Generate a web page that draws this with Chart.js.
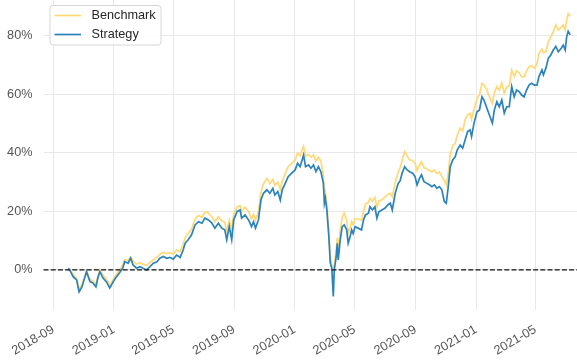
<!DOCTYPE html>
<html>
<head>
<meta charset="utf-8">
<script src="https://cdn.jsdelivr.net/npm/chart.js@4.4.1/dist/chart.umd.min.js"></script>
<style>
  body { margin: 0; background: #fff; }
  canvas { display: block; }
</style>
</head>
<body>
<canvas id="perfChart" width="577" height="360"></canvas>
<script>
// Cumulative returns (%)
const dates = [
	'2018-10-01', '2018-10-04', '2018-10-11', '2018-10-18', '2018-10-23', '2018-10-29', '2018-11-02', '2018-11-07',
	'2018-11-14', '2018-11-20', '2018-11-26', '2018-11-30', '2018-12-04', '2018-12-10', '2018-12-17', '2018-12-24',
	'2018-12-31', '2019-01-05', '2019-01-12', '2019-01-19', '2019-01-23', '2019-01-30', '2019-02-04', '2019-02-09',
	'2019-02-16', '2019-02-23', '2019-03-01', '2019-03-08', '2019-03-15', '2019-03-22', '2019-03-29', '2019-04-04',
	'2019-04-11', '2019-04-18', '2019-04-24', '2019-05-01', '2019-05-08', '2019-05-15', '2019-05-21', '2019-05-25',
	'2019-05-31', '2019-06-07', '2019-06-14', '2019-06-21', '2019-06-28', '2019-07-04', '2019-07-11', '2019-07-18',
	'2019-07-24', '2019-07-31', '2019-08-07', '2019-08-13', '2019-08-17', '2019-08-22', '2019-08-27', '2019-08-31',
	'2019-09-07', '2019-09-13', '2019-09-16', '2019-09-23', '2019-09-30', '2019-10-06', '2019-10-10', '2019-10-14',
	'2019-10-20', '2019-10-25', '2019-10-30', '2019-11-06', '2019-11-12', '2019-11-18', '2019-11-22', '2019-11-28',
	'2019-12-03', '2019-12-07', '2019-12-13', '2019-12-19', '2019-12-26', '2020-01-02', '2020-01-07', '2020-01-12',
	'2020-01-15', '2020-01-19', '2020-01-23', '2020-01-29', '2020-02-03', '2020-02-08', '2020-02-13', '2020-02-18',
	'2020-02-23', '2020-02-28', '2020-03-01', '2020-03-03', '2020-03-06', '2020-03-10', '2020-03-13', '2020-03-16',
	'2020-03-19', '2020-03-21', '2020-03-25', '2020-03-27', '2020-03-29', '2020-04-02', '2020-04-06', '2020-04-10',
	'2020-04-15', '2020-04-18', '2020-04-22', '2020-04-25', '2020-04-28', '2020-05-02', '2020-05-08', '2020-05-15',
	'2020-05-19', '2020-05-23', '2020-05-29', '2020-06-01', '2020-06-06', '2020-06-11', '2020-06-15', '2020-06-19',
	'2020-06-25', '2020-07-01', '2020-07-07', '2020-07-12', '2020-07-16', '2020-07-22', '2020-07-28', '2020-08-01',
	'2020-08-05', '2020-08-10', '2020-08-15', '2020-08-20', '2020-08-26', '2020-08-31', '2020-09-04', '2020-09-09',
	'2020-09-13', '2020-09-18', '2020-09-24', '2020-09-29', '2020-10-04', '2020-10-09', '2020-10-14', '2020-10-19',
	'2020-10-24', '2020-10-29', '2020-11-02', '2020-11-06', '2020-11-10', '2020-11-15', '2020-11-20', '2020-11-24',
	'2020-11-30', '2020-12-05', '2020-12-10', '2020-12-15', '2020-12-20', '2020-12-23', '2020-12-28', '2021-01-03',
	'2021-01-08', '2021-01-13', '2021-01-17', '2021-01-23', '2021-01-28', '2021-02-03', '2021-02-07', '2021-02-12',
	'2021-02-17', '2021-02-22', '2021-02-27', '2021-03-04', '2021-03-09', '2021-03-14', '2021-03-19', '2021-03-24',
	'2021-03-29', '2021-04-03', '2021-04-08', '2021-04-13', '2021-04-18', '2021-04-23', '2021-04-29', '2021-05-04',
	'2021-05-08', '2021-05-14', '2021-05-17', '2021-05-22', '2021-05-27', '2021-06-01', '2021-06-06', '2021-06-11',
	'2021-06-16', '2021-06-22', '2021-06-26', '2021-06-30', '2021-07-03', '2021-07-06', '2021-07-10'
];

const strategy = [
	0.5, 0.0, -2.3, -3.4, -7.5, -5.7, -3.4, -0.6,
	-4.0, -4.5, -5.8, -2.7, -0.6, -2.7, -4.0, -6.2,
	-4.0, -2.7, -1.1, 0.6, 2.8, 2.3, 4.0, 1.7,
	0.6, 1.1, 0.6, 0.0, 1.1, 2.3, 2.8, 4.0,
	4.6, 4.0, 4.3, 3.7, 5.1, 4.3, 6.8, 9.1,
	10.3, 12.0, 15.4, 16.5, 16.0, 17.7, 17.1, 16.0,
	14.3, 16.0, 14.3, 13.7, 10.3, 14.8, 10.3, 17.1,
	20.0, 20.5, 17.7, 18.8, 17.1, 14.8, 16.5, 14.3,
	17.1, 23.9, 26.2, 27.4, 26.2, 27.9, 25.6, 26.8,
	23.9, 27.4, 29.6, 31.9, 33.1, 34.2, 36.5, 35.3,
	37.0, 39.3, 35.3, 35.9, 34.8, 35.9, 33.6, 35.3,
	33.6, 29.6, 22.8, 24.5, 20.5, 11.4, 2.3, 0.6,
	-9.1, 0.0, 4.6, 9.1, 3.4, 10.3, 14.8, 15.4,
	13.7, 9.1, 11.4, 13.7, 12.5, 14.8, 14.3, 13.7,
	17.1, 18.8, 19.4, 21.6, 20.5, 21.6, 17.7, 19.9,
	20.5, 21.1, 22.2, 22.8, 20.5, 26.2, 29.6, 30.5,
	33.1, 35.3, 34.2, 33.6, 33.1, 31.9, 29.1, 31.3,
	32.5, 30.2, 29.6, 29.1, 28.5, 29.1, 27.9, 28.5,
	27.4, 23.4, 22.8, 28.5, 35.3, 37.6, 38.7, 41.0,
	42.7, 41.6, 44.4, 47.3, 47.9, 45.6, 50.2, 54.1,
	54.7, 59.2, 58.1, 55.3, 53.0, 50.2, 54.7, 57.5,
	55.8, 58.1, 53.6, 55.8, 55.8, 62.7, 59.2, 61.5,
	61.0, 59.8, 59.2, 61.5, 63.2, 63.8, 63.2, 63.2,
	66.1, 68.4, 66.7, 69.0, 72.4, 73.5, 75.2, 76.4,
	74.6, 75.8, 76.9, 75.2, 79.8, 81.6, 80.4
];

const benchmark = [
	0.5, 0.2, -1.5, -3.0, -6.5, -5.0, -3.0, -0.3,
	-3.2, -3.8, -5.0, -2.0, 0.0, -1.8, -3.0, -5.5,
	-3.2, -1.8, 0.0, 1.5, 3.5, 3.2, 4.5, 3.0,
	2.0, 2.5, 2.0, 1.5, 2.6, 3.5, 4.3, 5.3,
	6.0, 5.6, 5.8, 5.5, 6.8, 6.3, 8.8, 11.0,
	12.5, 14.0, 17.5, 18.6, 18.0, 19.8, 19.5, 18.2,
	16.5, 18.2, 16.8, 16.3, 13.3, 17.0, 13.5, 19.2,
	21.6, 22.0, 20.0, 21.5, 20.0, 17.5, 19.0, 17.0,
	20.0, 26.5, 29.5, 31.3, 29.5, 31.0, 29.0, 30.0,
	27.5, 30.5, 33.0, 35.3, 36.5, 37.5, 40.0, 39.0,
	40.5, 42.2, 38.8, 39.5, 38.5, 39.3, 37.2, 38.5,
	37.2, 32.5, 25.0, 26.5, 22.5, 13.0, 4.0, 1.5,
	1.0, 1.5, 7.0, 11.0, 6.5, 13.5, 18.0, 19.5,
	17.0, 12.5, 14.5, 16.5, 15.5, 17.5, 17.5, 17.0,
	20.0, 22.5, 23.2, 24.5, 23.5, 24.8, 21.5, 23.5,
	24.0, 24.8, 25.8, 26.2, 25.0, 30.0, 33.5, 35.0,
	37.5, 40.5, 39.0, 37.6, 37.5, 36.5, 34.0, 35.8,
	37.0, 35.0, 34.5, 34.0, 33.5, 34.2, 33.0, 33.5,
	32.0, 30.5, 29.0, 33.0, 39.5, 42.5, 43.3, 46.0,
	48.5, 47.5, 51.3, 53.0, 53.5, 51.5, 55.0, 58.5,
	60.0, 63.8, 63.2, 61.5, 59.2, 57.0, 60.5, 62.7,
	61.5, 64.0, 60.5, 62.5, 63.0, 68.4, 66.2, 68.0,
	67.5, 66.1, 66.0, 68.0, 69.5, 69.8, 69.0, 70.5,
	74.0, 75.5, 74.3, 74.6, 78.0, 79.8, 81.5, 83.8,
	82.0, 83.0, 83.8, 82.0, 85.5, 87.6, 86.7
];

const xTickLabels = ['2018-09', '2019-01', '2019-05', '2019-09', '2020-01', '2020-05', '2020-09', '2021-01', '2021-05'];
const yTickValues = [0, 20, 40, 60, 80];

// days counted from 2018-09-01 so a linear axis can stand in for a time axis
const origin = Date.UTC(2018, 8, 1);
function dayOf(str) {
	const p = str.split('-').map(Number);
	return (Date.UTC(p[0], p[1] - 1, p[2] || 1) - origin) / 86400000;
}

const benchPoints = dates.map((d, i) => ({ x: dayOf(d), y: benchmark[i] }));
const stratPoints = dates.map((d, i) => ({ x: dayOf(d), y: strategy[i] }));

const tickFont = { family: "'Liberation Sans', Arial, sans-serif", size: 12.7 };

// dashed line at 0%
const zeroLine = {
	id: 'zeroLine',
	afterDatasetsDraw(chart) {
		const { ctx, chartArea, scales } = chart;
		const y = scales.y.getPixelForValue(0);
		ctx.save();
		ctx.strokeStyle = '#111';
		ctx.lineWidth = 1.3;
		ctx.setLineDash([5, 2.2]);
		ctx.beginPath();
		ctx.moveTo(chartArea.left, y);
		ctx.lineTo(chartArea.right, y);
		ctx.stroke();
		ctx.restore();
	}
};

// legend box in the upper left corner, matplotlib style
const boxLegend = {
	id: 'boxLegend',
	afterDraw(chart) {
		const ctx = chart.ctx;
		const left = chart.chartArea.left + 6.5;
		const top = 5.5;
		ctx.save();
		ctx.fillStyle = 'rgba(255,255,255,0.85)';
		ctx.strokeStyle = '#d6d6d6';
		ctx.lineWidth = 1;
		ctx.beginPath();
		ctx.roundRect(left, top, 111, 39.5, 3);
		ctx.fill();
		ctx.stroke();
		ctx.font = "12.7px 'Liberation Sans', Arial, sans-serif";
		ctx.textBaseline = 'middle';
		chart.data.datasets.forEach((ds, i) => {
			const y = 15.5 + i * 19;
			ctx.strokeStyle = ds.borderColor;
			ctx.lineWidth = 1.7;
			ctx.beginPath();
			ctx.moveTo(left + 4.5, y);
			ctx.lineTo(left + 31, y);
			ctx.stroke();
			ctx.fillStyle = '#262626';
			ctx.fillText(ds.label, left + 41.5, y);
		});
		ctx.restore();
	}
};

new Chart(document.getElementById('perfChart'), {
	type: 'line',
	data: {
		datasets: [{
			label: 'Benchmark',
			data: benchPoints,
			borderColor: '#fed976',
			borderWidth: 1.7,
			pointRadius: 0,
			tension: 0,
			order: 1
		}, {
			label: 'Strategy',
			data: stratPoints,
			borderColor: '#2b83ba',
			borderWidth: 1.7,
			pointRadius: 0,
			tension: 0,
			order: 0
		}]
	},
	options: {
		responsive: false,
		animation: false,
		layout: { padding: 0 },
		plugins: {
			legend: { display: false },
			tooltip: { enabled: false }
		},
		scales: {
			x: {
				type: 'linear',
				min: -19.8,
				max: 1056.8,
				afterBuildTicks: (scale) => {
					scale.ticks = xTickLabels.map(l => ({ value: dayOf(l) }));
				},
				afterFit: (scale) => {
					scale.height = 50;
					scale.paddingLeft = 0;
					scale.paddingRight = 0;
				},
				ticks: {
					autoSkip: false,
					minRotation: 30,
					maxRotation: 30,
					padding: 12,
					color: '#555',
					font: tickFont,
					callback: (value, index) => xTickLabels[index]
				},
				grid: {
					color: '#e8e8e8',
					drawTicks: false
				},
				border: { display: false }
			},
			y: {
				min: -13.7,
				max: 92.3,
				afterBuildTicks: (scale) => {
					scale.ticks = yTickValues.map(v => ({ value: v }));
				},
				afterFit: (scale) => {
					scale.width = 43.5;
					scale.paddingTop = 0;
					scale.paddingBottom = 0;
				},
				ticks: {
					padding: 11,
					color: '#555',
					font: tickFont,
					callback: (value) => value + '%'
				},
				grid: {
					color: '#e8e8e8',
					drawTicks: false
				},
				border: { display: false }
			}
		}
	},
	plugins: [zeroLine, boxLegend]
});
</script>
</body>
</html>
